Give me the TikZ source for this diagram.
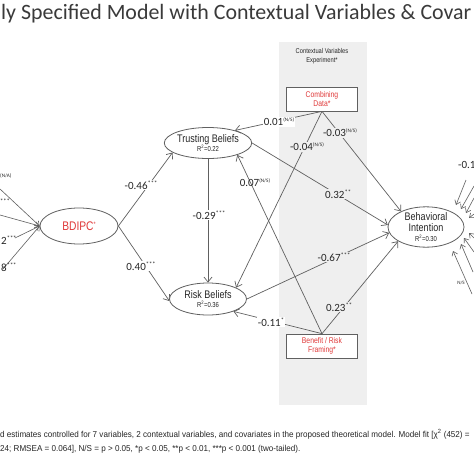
\documentclass[tikz,border=0pt]{standalone}
\usepackage{fontspec}
\setmainfont{Carlito}
\newfontfamily\narrowfont[FakeStretch=0.82]{Liberation Sans}
\newfontfamily\capfont[FakeStretch=0.94]{Liberation Sans}
\usetikzlibrary{shapes.geometric,arrows.meta}
\definecolor{linegray}{HTML}{606060}
\definecolor{panelgray}{HTML}{EFEFEF}
\definecolor{redtext}{HTML}{E03A3A}
\definecolor{textdark}{HTML}{262626}
\definecolor{titlegray}{HTML}{3A3A3A}
\newcommand{\pstars}[1]{\raisebox{3.6pt}{\fontsize{6.5}{6.5}\selectfont #1}}
\newcommand{\nsup}[1]{\raisebox{3.8pt}{\fontsize{5.2}{5.5}\selectfont #1}}
\newcommand{\rsqfont}{\fontsize{7.2}{7.5}\selectfont}
\tikzset{
  lat/.style={ellipse, draw=linegray, line width=0.8pt, fill=white, inner sep=0pt,
    minimum width=77pt, minimum height=31pt, align=center, text=textdark,
    font=\narrowfont\fontsize{11}{11}\selectfont},
  ctxbox/.style={draw=linegray, line width=0.7pt, fill=white, inner sep=0pt,
    minimum width=71pt, minimum height=24pt, align=center, text=redtext,
    font=\narrowfont\fontsize{8.3}{9}\selectfont},
  arr/.style={draw=linegray, line width=0.7pt, -{Straight Barb[length=5pt,width=8pt]}},
  sarr/.style={draw=linegray, line width=0.6pt, -{Straight Barb[length=4pt,width=6pt]}},
  coef/.style={font=\fontsize{11}{11}\selectfont, text=textdark, fill=white, inner sep=1pt},
  coefp/.style={coef, fill=panelgray}
}
\begin{document}
\begin{tikzpicture}[x=1pt,y=-1pt]
\useasboundingbox (0,0) rectangle (474,474);
\fill[white] (0,0) rectangle (474,474);

% title
\node[anchor=base west, inner sep=0pt, text=titlegray, font=\fontsize{21.9}{24}\selectfont] (title) at (1,19.5)
  {ly Specified Model with Contextual Variables \& Covar};

% panel
\node[fill=panelgray, inner sep=0pt, minimum width=88pt, minimum height=363pt, anchor=north west] (panel) at (279,42) {};
\node[align=center, text=textdark, font=\narrowfont\fontsize{7}{8.5}\selectfont, inner sep=0pt] (hdr) at (322,56)
  {Contextual Variables\\Experiment*};

% boxes
\node[ctxbox] (cd) at (322,99) {Combining\\Data*};
\node[ctxbox] (bf) at (322,346) {Benefit / Risk\\Framing*};

% latent variables
\node[lat, minimum width=78pt, minimum height=36pt, text=redtext, font=\narrowfont\fontsize{12.5}{12.5}\selectfont] (bd) at (79,226) {BDIPC\pstars{*}};
\node[lat] (tb) at (208,143) {Trusting Beliefs\\[-1.5pt]{\rsqfont R\textsuperscript{2}=0.22}};
\node[lat, minimum height=32pt] (rb) at (208,299) {Risk Beliefs\\[-1.5pt]{\rsqfont R\textsuperscript{2}=0.36}};
\node[lat, minimum width=76pt, minimum height=33pt] (bi) at (426,227)
  {Behavioral\\[0pt]Intention\\[-1.5pt]{\rsqfont R\textsuperscript{2}=0.30}};

% structural paths
\draw[arr] (bd.east) -- (tb.195);
\draw[arr] (bd.east) -- (rb.183);
\draw[arr] (tb.south) -- (rb.north);
\draw[arr] (tb.east) -- (bi.177);
\draw[arr] (rb.east) -- (bi.189);
\draw[arr] (cd.south) -- (tb.25);
\draw[arr] (cd.south) -- (rb.22);
\draw[arr] (cd.south) -- (bi.148);
\draw[arr] (bf.north) -- (tb.-22);
\draw[arr] (bf.north) -- (rb.-26);
\draw[arr] (bf.north) -- (bi.207);

% coefficient labels
\node[coef] (c1) at (141,185) {-0.46\pstars{***}};
\node[coef] (c2) at (141,266) {0.40\pstars{***}};
\node[coef] (c3) at (209,215) {-0.29\pstars{***}};
\node[coefp] (c4) at (338,194) {0.32\pstars{**}};
\node[coefp] (c5) at (334,257) {-0.67\pstars{***}};
\node[coef] (c6) at (279,122) {0.01\nsup{(N/S)}};
\node[coefp] (c7) at (307,147) {-0.04\nsup{(N/S)}};
\node[coefp] (c8) at (340,133) {-0.03\nsup{(N/S)}};
\node[coef, fill=none] (c9) at (255,183) {0.07\nsup{(N/S)}};
\node[coef] (c10) at (271,322) {-0.11\pstars{*}};
\node[coefp] (c11) at (339,307) {0.23\pstars{**}};

% left (cut-off) indicator paths
\coordinate (l1) at (0,189);
\coordinate (l2) at (0,215);
\coordinate (l3) at (15,238);
\coordinate (l4) at (3,269);
\draw[sarr] (l1) -- (bd.west);
\draw[sarr] (l2) -- (bd.west);
\draw[sarr] (l3) -- (bd.west);
\draw[sarr] (l4) -- (bd.west);
\node[anchor=west, inner sep=0pt, text=textdark] (n1) at (0,177) {\nsup{(N/A)}};
\node[anchor=west, inner sep=0pt, text=textdark] (n2) at (0,203) {\pstars{***}};
\node[anchor=west, inner sep=0pt, coef, fill=none] (n3) at (0,240) {2\pstars{***}};
\node[anchor=west, inner sep=0pt, coef, fill=none] (n4) at (0,267) {8\pstars{***}};

% right (cut-off) covariate paths
\coordinate (r1s) at (466,180); \coordinate (r1e) at (456,205);
\coordinate (r2s) at (474,186); \coordinate (r2e) at (461,209);
\coordinate (r3s) at (474,198); \coordinate (r3e) at (466,213);
\coordinate (r4s) at (474,214); \coordinate (r4e) at (469,218);
\coordinate (r5s) at (474,238); \coordinate (r5e) at (469,233);
\coordinate (r6s) at (474,252); \coordinate (r6e) at (464,238);
\coordinate (r7s) at (473,272); \coordinate (r7e) at (461,244);
\coordinate (r8s) at (472,294); \coordinate (r8e) at (453,251);
\foreach \i in {1,...,8} { \draw[sarr] (r\i s) -- (r\i e); }
\node[coef, fill=none, anchor=west, inner sep=0pt] (r0) at (458,165) {-0.1};
\node[inner sep=0pt, text=textdark, font=\fontsize{5}{5}\selectfont] (ns) at (461,283) {N/S};

% caption
\node[anchor=base west, inner sep=0pt, text=textdark, font=\capfont\fontsize{8.6}{9.5}\selectfont] (cap1) at (0,437)
  {d estimates controlled for 7 variables, 2 contextual variables, and covariates in the proposed theoretical model. Model fit [χ\textsuperscript{2} (452) =};
\node[anchor=base west, inner sep=0pt, text=textdark, font=\capfont\fontsize{8.6}{9.5}\selectfont] (cap2) at (0,451)
  {24; RMSEA = 0.064], N/S = p > 0.05, *p < 0.05, **p < 0.01, ***p < 0.001 (two-tailed).};
\end{tikzpicture}
\end{document}
